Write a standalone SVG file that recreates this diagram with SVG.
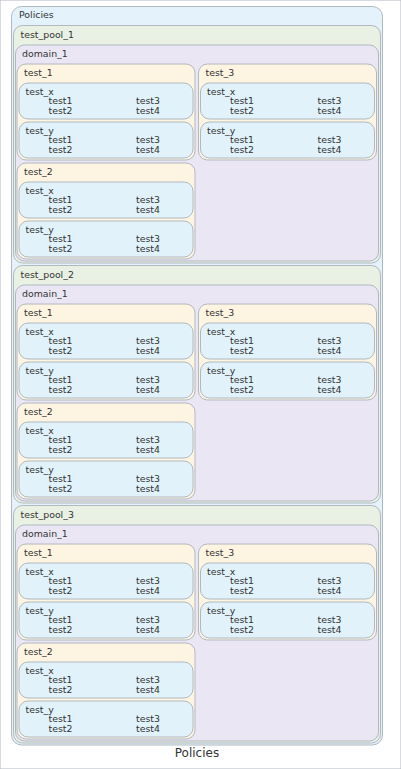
<svg xmlns="http://www.w3.org/2000/svg" width="401" height="769" viewBox="0 0 401 769">
<style>
rect{stroke:#b0b8c0;stroke-width:1}
.root{fill:#e3f2fb}
.pool{fill:#e9f0e4}
.dom{fill:#ebe6f4}
.grp{fill:#fdf5e2}
.leaf{fill:#e1f2fb}
text{font-family:"DejaVu Sans","Liberation Sans",sans-serif;font-size:9.4px;fill:#333}
.cap{font-size:12px;text-anchor:middle}
</style>
<rect width="401" height="769" fill="#ffffff" stroke="none"/>
<g id="connectors"></g>
<g id="Policies">
<rect class="root" x="11.5" y="6.5" width="371" height="738.5" rx="10"/>
<text x="19" y="18">Policies</text>

<g id="test_pool_1">
<rect class="pool" x="13.5" y="25.5" width="367" height="237.5" rx="9"/>
<text x="20.5" y="37.5">test_pool_1</text>
<g id="p1_domain_1">
<rect class="dom" x="15.5" y="45" width="363" height="216" rx="9"/>
<text x="22" y="57">domain_1</text>
<g id="p1_test_1">
<rect class="grp" x="17" y="64" width="178" height="96" rx="9"/>
<text x="24" y="76">test_1</text>
<g id="p1_test_1_test_x" transform="translate(19,83)"><rect class="leaf" width="174" height="36" rx="9"/><text x="6.5" y="11.5">test_x</text><text x="29.5" y="21">test1</text><text x="29.5" y="30.5">test2</text><text x="117" y="21">test3</text><text x="117" y="30.5">test4</text></g>
<g id="p1_test_1_test_y" transform="translate(19,122)"><rect class="leaf" width="174" height="36" rx="9"/><text x="6.5" y="11.5">test_y</text><text x="29.5" y="21">test1</text><text x="29.5" y="30.5">test2</text><text x="117" y="21">test3</text><text x="117" y="30.5">test4</text></g>
</g>
<g id="p1_test_2">
<rect class="grp" x="17" y="163" width="178" height="96" rx="9"/>
<text x="24" y="175">test_2</text>
<g id="p1_test_2_test_x" transform="translate(19,182)"><rect class="leaf" width="174" height="36" rx="9"/><text x="6.5" y="11.5">test_x</text><text x="29.5" y="21">test1</text><text x="29.5" y="30.5">test2</text><text x="117" y="21">test3</text><text x="117" y="30.5">test4</text></g>
<g id="p1_test_2_test_y" transform="translate(19,221)"><rect class="leaf" width="174" height="36" rx="9"/><text x="6.5" y="11.5">test_y</text><text x="29.5" y="21">test1</text><text x="29.5" y="30.5">test2</text><text x="117" y="21">test3</text><text x="117" y="30.5">test4</text></g>
</g>
<g id="p1_test_3">
<rect class="grp" x="198.5" y="64" width="178" height="96" rx="9"/>
<text x="205.5" y="76">test_3</text>
<g id="p1_test_3_test_x" transform="translate(200.5,83)"><rect class="leaf" width="174" height="36" rx="9"/><text x="6.5" y="11.5">test_x</text><text x="29.5" y="21">test1</text><text x="29.5" y="30.5">test2</text><text x="117" y="21">test3</text><text x="117" y="30.5">test4</text></g>
<g id="p1_test_3_test_y" transform="translate(200.5,122)"><rect class="leaf" width="174" height="36" rx="9"/><text x="6.5" y="11.5">test_y</text><text x="29.5" y="21">test1</text><text x="29.5" y="30.5">test2</text><text x="117" y="21">test3</text><text x="117" y="30.5">test4</text></g>
</g>
</g>
</g>

<g id="test_pool_2" transform="translate(0,240)">
<rect class="pool" x="13.5" y="25.5" width="367" height="237.5" rx="9"/>
<text x="20.5" y="37.5">test_pool_2</text>
<g id="p2_domain_1">
<rect class="dom" x="15.5" y="45" width="363" height="216" rx="9"/>
<text x="22" y="57">domain_1</text>
<g id="p2_test_1">
<rect class="grp" x="17" y="64" width="178" height="96" rx="9"/>
<text x="24" y="76">test_1</text>
<g id="p2_test_1_test_x" transform="translate(19,83)"><rect class="leaf" width="174" height="36" rx="9"/><text x="6.5" y="11.5">test_x</text><text x="29.5" y="21">test1</text><text x="29.5" y="30.5">test2</text><text x="117" y="21">test3</text><text x="117" y="30.5">test4</text></g>
<g id="p2_test_1_test_y" transform="translate(19,122)"><rect class="leaf" width="174" height="36" rx="9"/><text x="6.5" y="11.5">test_y</text><text x="29.5" y="21">test1</text><text x="29.5" y="30.5">test2</text><text x="117" y="21">test3</text><text x="117" y="30.5">test4</text></g>
</g>
<g id="p2_test_2">
<rect class="grp" x="17" y="163" width="178" height="96" rx="9"/>
<text x="24" y="175">test_2</text>
<g id="p2_test_2_test_x" transform="translate(19,182)"><rect class="leaf" width="174" height="36" rx="9"/><text x="6.5" y="11.5">test_x</text><text x="29.5" y="21">test1</text><text x="29.5" y="30.5">test2</text><text x="117" y="21">test3</text><text x="117" y="30.5">test4</text></g>
<g id="p2_test_2_test_y" transform="translate(19,221)"><rect class="leaf" width="174" height="36" rx="9"/><text x="6.5" y="11.5">test_y</text><text x="29.5" y="21">test1</text><text x="29.5" y="30.5">test2</text><text x="117" y="21">test3</text><text x="117" y="30.5">test4</text></g>
</g>
<g id="p2_test_3">
<rect class="grp" x="198.5" y="64" width="178" height="96" rx="9"/>
<text x="205.5" y="76">test_3</text>
<g id="p2_test_3_test_x" transform="translate(200.5,83)"><rect class="leaf" width="174" height="36" rx="9"/><text x="6.5" y="11.5">test_x</text><text x="29.5" y="21">test1</text><text x="29.5" y="30.5">test2</text><text x="117" y="21">test3</text><text x="117" y="30.5">test4</text></g>
<g id="p2_test_3_test_y" transform="translate(200.5,122)"><rect class="leaf" width="174" height="36" rx="9"/><text x="6.5" y="11.5">test_y</text><text x="29.5" y="21">test1</text><text x="29.5" y="30.5">test2</text><text x="117" y="21">test3</text><text x="117" y="30.5">test4</text></g>
</g>
</g>
</g>

<g id="test_pool_3" transform="translate(0,480)">
<rect class="pool" x="13.5" y="25.5" width="367" height="237.5" rx="9"/>
<text x="20.5" y="37.5">test_pool_3</text>
<g id="p3_domain_1">
<rect class="dom" x="15.5" y="45" width="363" height="216" rx="9"/>
<text x="22" y="57">domain_1</text>
<g id="p3_test_1">
<rect class="grp" x="17" y="64" width="178" height="96" rx="9"/>
<text x="24" y="76">test_1</text>
<g id="p3_test_1_test_x" transform="translate(19,83)"><rect class="leaf" width="174" height="36" rx="9"/><text x="6.5" y="11.5">test_x</text><text x="29.5" y="21">test1</text><text x="29.5" y="30.5">test2</text><text x="117" y="21">test3</text><text x="117" y="30.5">test4</text></g>
<g id="p3_test_1_test_y" transform="translate(19,122)"><rect class="leaf" width="174" height="36" rx="9"/><text x="6.5" y="11.5">test_y</text><text x="29.5" y="21">test1</text><text x="29.5" y="30.5">test2</text><text x="117" y="21">test3</text><text x="117" y="30.5">test4</text></g>
</g>
<g id="p3_test_2">
<rect class="grp" x="17" y="163" width="178" height="96" rx="9"/>
<text x="24" y="175">test_2</text>
<g id="p3_test_2_test_x" transform="translate(19,182)"><rect class="leaf" width="174" height="36" rx="9"/><text x="6.5" y="11.5">test_x</text><text x="29.5" y="21">test1</text><text x="29.5" y="30.5">test2</text><text x="117" y="21">test3</text><text x="117" y="30.5">test4</text></g>
<g id="p3_test_2_test_y" transform="translate(19,221)"><rect class="leaf" width="174" height="36" rx="9"/><text x="6.5" y="11.5">test_y</text><text x="29.5" y="21">test1</text><text x="29.5" y="30.5">test2</text><text x="117" y="21">test3</text><text x="117" y="30.5">test4</text></g>
</g>
<g id="p3_test_3">
<rect class="grp" x="198.5" y="64" width="178" height="96" rx="9"/>
<text x="205.5" y="76">test_3</text>
<g id="p3_test_3_test_x" transform="translate(200.5,83)"><rect class="leaf" width="174" height="36" rx="9"/><text x="6.5" y="11.5">test_x</text><text x="29.5" y="21">test1</text><text x="29.5" y="30.5">test2</text><text x="117" y="21">test3</text><text x="117" y="30.5">test4</text></g>
<g id="p3_test_3_test_y" transform="translate(200.5,122)"><rect class="leaf" width="174" height="36" rx="9"/><text x="6.5" y="11.5">test_y</text><text x="29.5" y="21">test1</text><text x="29.5" y="30.5">test2</text><text x="117" y="21">test3</text><text x="117" y="30.5">test4</text></g>
</g>
</g>
</g>
</g>
<text class="cap" x="197" y="757">Policies</text>
</svg>
